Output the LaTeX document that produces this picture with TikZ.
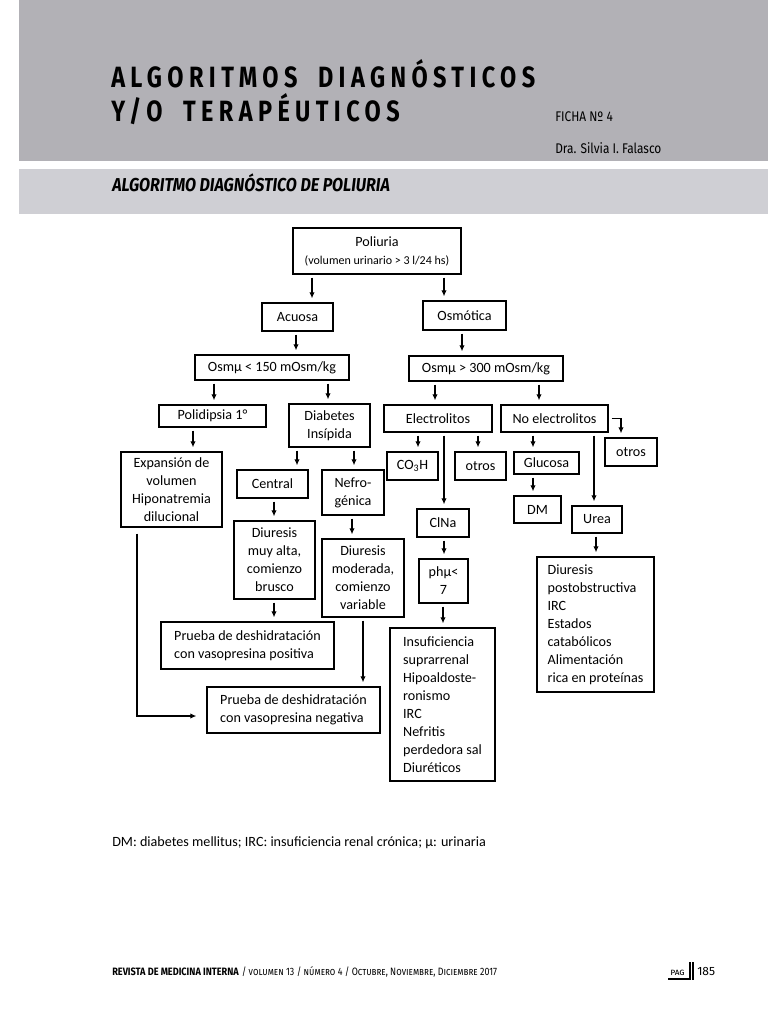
\documentclass[tikz,border=0pt]{standalone}
\usepackage{fontspec}
\usepackage{graphicx}
\setmainfont{Carlito}
\newfontfamily\headfont{Fira Sans}
\newfontfamily\titlefont{Fira Sans}[LetterSpace = 23]
\usetikzlibrary{arrows.meta}

\definecolor{bandtop}{HTML}{B2B1B6}
\definecolor{bandsub}{HTML}{CFCFD4}

\tikzset{
	box/.style = {draw, line width = 1pt, inner sep = 2pt, align = center,
		font = \fontsize{10.6}{13.5}\selectfont},
	boxl/.style = {box, align = left},
	wh/.style 2 args = {minimum width = #1*0.75pt, minimum height = #2*0.75pt},
	arr/.style = {->, line width = 0.8pt, shorten <= 2.25pt, shorten >= 3pt},
	head/.style = {anchor = base west, inner sep = 0pt}
}

\begin{document}
\begin{tikzpicture}[x = 0.75pt, y = -0.75pt, > = {Latex[length = 4.5pt, width = 4pt]}]

	\useasboundingbox (0, 0) rectangle (768, 1024);

	% Header bands

	\fill [bandtop] (19, 0) rectangle (768, 161);
	\fill [bandsub] (19, 169) rectangle (768, 214);

	\node [head, font = \titlefont\bfseries\fontsize{22}{24}\selectfont] (title1) at (111, 88) {\scalebox{0.8}[1]{ALGORITMOS\hspace{9pt} DIAGNÓSTICOS}};
	\node [head, font = \titlefont\bfseries\fontsize{22}{24}\selectfont] (title2) at (111, 121) {\scalebox{0.8}[1]{Y/O\hspace{9pt} TERAPÉUTICOS}};
	\node [head, font = \headfont\fontsize{10.5}{12}\selectfont] (ficha) at (555, 122) {\scalebox{0.85}[1]{FICHA Nº 4}};
	\node [head, font = \headfont\fontsize{10.5}{12}\selectfont] (autora) at (555, 153) {\scalebox{0.85}[1]{Dra. Silvia I. Falasco}};
	\node [head, font = \headfont\bfseries\itshape\fontsize{14}{16}\selectfont] (subtitulo) at (112, 191) {\scalebox{0.86}[1]{ALGORITMO DIAGNÓSTICO DE POLIURIA}};

	% Boxes

	\node [box, wh = {168}{46}] (poli) at (377, 251) {Poliuria\\{\fontsize{9}{11}\selectfont (volumen urinario > 3 l/24 hs)}};
	\node [box, wh = {71}{28}] (acuosa) at (297.5, 317) {Acuosa};
	\node [box, wh = {83}{29}] (osmot) at (464.5, 315.5) {Osmótica};
	\node [box, wh = {154}{25}] (osmA) at (272, 367.5) {Osmμ < 150 mOsm/kg};
	\node [box, wh = {154}{25}] (osmB) at (486, 368.5) {Osmμ > 300 mOsm/kg};

	\node [box, wh = {107}{22}] (polid) at (212.5, 416) {Polidipsia 1°};
	\node [box, wh = {81}{43}] (diab) at (329.5, 425.5) {Diabetes\\Insípida};
	\node [box, wh = {108}{27}] (elec) at (438, 418.5) {Electrolitos};
	\node [box, wh = {107}{27}] (noelec) at (554.5, 418.5) {No electrolitos};

	\node [box, wh = {101}{75}] (expan) at (171.5, 489.5) {Expansión de\\volumen\\Hiponatremia\\dilucional};
	\node [box, wh = {71}{28}] (central) at (272.5, 484) {Central};
	\node [box, wh = {62}{45}] (nefro) at (353, 492.5) {Nefro-\\génica};
	\node [box, wh = {51}{28}] (co3h) at (412.5, 466) {CO\textsubscript{3}H};
	\node [box, wh = {51}{28}] (otrosA) at (480.5, 466) {otros};
	\node [box, wh = {65}{22}] (gluc) at (546.5, 463) {Glucosa};
	\node [box, wh = {52}{28}] (otrosB) at (631, 452) {otros};

	\node [box, wh = {52}{28}] (clna) at (443, 523) {ClNa};
	\node [box, wh = {47}{27}] (dm) at (537.5, 509.5) {DM};
	\node [box, wh = {50}{27}] (urea) at (597, 519.5) {Urea};
	\node [box, wh = {81}{78}] (dmuy) at (274.5, 560) {Diuresis\\muy alta,\\comienzo\\brusco};
	\node [box, wh = {82}{78}] (dmod) at (363, 578) {Diuresis\\moderada,\\comienzo\\variable};
	\node [box, wh = {49}{44}] (phmu) at (443.5, 581) {phμ<\\7};

	\node [boxl, wh = {117}{135}] (postob) at (595.5, 624.5) {Diuresis\\postobstructiva\\IRC\\Estados\\catabólicos\\Alimentación\\rica en proteínas};
	\node [boxl, wh = {173}{47}] (pruebaP) at (247.5, 645.5) {Prueba de deshidratación\\con vasopresina positiva};
	\node [boxl, wh = {173}{46}] (pruebaN) at (293.5, 710) {Prueba de deshidratación\\con vasopresina negativa};
	\node [boxl, wh = {105}{153}] (insuf) at (442.5, 704.5) {Insuficiencia\\suprarrenal\\Hipoaldoste-\\ronismo\\IRC\\Nefritis\\perdedora sal\\Diuréticos};

	% Arrows

	\foreach \a/\b/\x in {poli/acuosa/312, poli/osmot/444, acuosa/osmA/296, osmot/osmB/462,
		osmA/polid/214, osmA/diab/328, osmB/elec/435, osmB/noelec/539,
		polid/expan/193, diab/central/297, diab/nefro/354, central/dmuy/274, nefro/dmod/352,
		dmuy/pruebaP/274, dmod/pruebaN/363, elec/co3h/418, elec/otrosA/478, elec/clna/444,
		clna/phmu/444, phmu/insuf/443, noelec/gluc/533, noelec/urea/594, gluc/dm/533, urea/postob/596}
		\draw [arr] (\a.south -| \x, 0) -- (\b.north -| \x, 0);

	\draw [arr] (noelec.east) -| ([xshift = -7.5pt] otrosB.north);
	\draw [arr, shorten <= 4.5pt, shorten >= 7.5pt] (expan.south -| 137, 0) |- ([yshift = -4.5pt] pruebaN.west);

	% Legend and footer

	\node [head, font = \fontsize{10.6}{12}\selectfont] (leyenda) at (112, 846) {DM: diabetes mellitus; IRC: insuficiencia renal crónica; μ: urinaria};
	\node [head, font = \headfont\fontsize{8}{10}\selectfont] (revista) at (112, 975) {\scalebox{0.86}[1]{\textbf{REVISTA DE MEDICINA INTERNA}} \scalebox{0.83}[1]{/ \textsc{volumen 13 / número 4 / Octubre, Noviembre, Diciembre 2017}}};
	\node [head, font = \headfont\fontsize{7}{8}\selectfont] (pag) at (670, 975) {\textsc{pag}};
	\node [head, font = \headfont\fontsize{9}{10}\selectfont] (pnum) at (697, 975) {185};
	\draw [line width = 0.8pt] (668, 979) -- (689, 979);
	\draw [line width = 0.8pt] (690, 962) -- (690, 980) (693, 962) -- (693, 980);

\end{tikzpicture}
\end{document}
